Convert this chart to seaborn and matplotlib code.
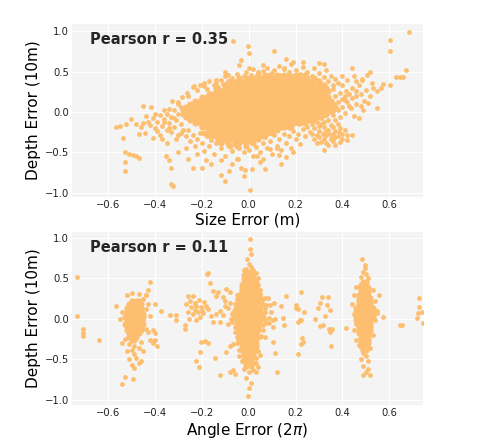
import matplotlib
matplotlib.use("Agg")
import matplotlib.pyplot as plt
import seaborn as sns

# ---- top panel: size error vs depth error ----
# dense core, read row by row (y, x positions)
size_core_rows = [
    (0.46, [0.04, 0.07, 0.09, 0.12, 0.15, 0.17, 0.20, 0.24]),
    (0.42, [-0.04, -0.01, 0.02, 0.04, 0.06, 0.08, 0.10, 0.12, 0.14, 0.16, 0.18, 0.20, 0.22, 0.25, 0.28]),
    (0.38, [-0.08, -0.05, -0.02, 0.00, 0.01, 0.03, 0.05, 0.06, 0.08, 0.09, 0.11, 0.13, 0.14, 0.16, 0.18, 0.19, 0.21, 0.23, 0.25, 0.27, 0.30]),
    (0.34, [-0.10, -0.06, -0.05, -0.03, -0.02, 0.00, 0.02, 0.03, 0.05, 0.06, 0.08, 0.10, 0.11, 0.13, 0.14, 0.16, 0.18, 0.19, 0.21, 0.22, 0.24, 0.26, 0.28, 0.30, 0.32]),
    (0.30, [-0.14, -0.10, -0.08, -0.07, -0.05, -0.04, -0.02, -0.01, 0.01, 0.03, 0.04, 0.06, 0.07, 0.09, 0.11, 0.12, 0.14, 0.15, 0.17, 0.19, 0.20, 0.22, 0.23, 0.25, 0.27, 0.29, 0.31, 0.33]),
    (0.26, [-0.14, -0.12, -0.11, -0.09, -0.08, -0.06, -0.04, -0.03, -0.01, 0.00, 0.02, 0.04, 0.05, 0.07, 0.08, 0.10, 0.12, 0.13, 0.15, 0.16, 0.18, 0.20, 0.21, 0.23, 0.24, 0.26, 0.28, 0.30, 0.32, 0.34]),
    (0.22, [-0.17, -0.16, -0.14, -0.13, -0.11, -0.09, -0.08, -0.06, -0.05, -0.03, -0.01, 0.00, 0.02, 0.03, 0.05, 0.07, 0.08, 0.10, 0.11, 0.13, 0.15, 0.16, 0.18, 0.19, 0.21, 0.23, 0.24, 0.26, 0.27, 0.29, 0.31, 0.32]),
    (0.18, [-0.20, -0.18, -0.17, -0.15, -0.14, -0.12, -0.10, -0.09, -0.07, -0.06, -0.04, -0.02, -0.01, 0.01, 0.02, 0.04, 0.06, 0.07, 0.09, 0.10, 0.12, 0.14, 0.15, 0.17, 0.18, 0.20, 0.22, 0.23, 0.25, 0.26, 0.28, 0.30, 0.31, 0.33, 0.34]),
    (0.14, [-0.23, -0.21, -0.20, -0.18, -0.16, -0.15, -0.13, -0.12, -0.10, -0.08, -0.07, -0.05, -0.04, -0.02, 0.00, 0.01, 0.03, 0.04, 0.06, 0.08, 0.09, 0.11, 0.12, 0.14, 0.16, 0.17, 0.19, 0.20, 0.22, 0.24, 0.25, 0.27, 0.28, 0.30, 0.32, 0.33, 0.35]),
    (0.10, [-0.25, -0.24, -0.22, -0.20, -0.19, -0.17, -0.16, -0.14, -0.12, -0.11, -0.09, -0.08, -0.06, -0.04, -0.03, -0.01, 0.00, 0.02, 0.04, 0.05, 0.07, 0.08, 0.10, 0.12, 0.13, 0.15, 0.16, 0.18, 0.20, 0.21, 0.23, 0.24, 0.26, 0.28, 0.29, 0.31, 0.32, 0.34, 0.36]),
    (0.06, [-0.27, -0.26, -0.24, -0.22, -0.21, -0.19, -0.18, -0.16, -0.14, -0.13, -0.11, -0.10, -0.08, -0.06, -0.05, -0.03, -0.02, 0.00, 0.02, 0.03, 0.05, 0.06, 0.08, 0.10, 0.11, 0.13, 0.14, 0.16, 0.18, 0.19, 0.21, 0.22, 0.24, 0.26, 0.27, 0.29, 0.30, 0.32, 0.34, 0.35, 0.37]),
    (0.02, [-0.28, -0.27, -0.25, -0.23, -0.22, -0.20, -0.19, -0.17, -0.15, -0.14, -0.12, -0.11, -0.09, -0.07, -0.06, -0.04, -0.03, -0.01, 0.01, 0.02, 0.04, 0.05, 0.07, 0.09, 0.10, 0.12, 0.13, 0.15, 0.17, 0.18, 0.20, 0.21, 0.23, 0.25, 0.26, 0.28, 0.29, 0.31, 0.33, 0.34, 0.36]),
    (-0.02, [-0.28, -0.26, -0.24, -0.23, -0.21, -0.20, -0.18, -0.16, -0.15, -0.13, -0.12, -0.10, -0.08, -0.07, -0.05, -0.04, -0.02, 0.00, 0.01, 0.03, 0.04, 0.06, 0.08, 0.09, 0.11, 0.12, 0.14, 0.16, 0.17, 0.19, 0.20, 0.22, 0.24, 0.25, 0.27, 0.28, 0.30, 0.32, 0.33]),
    (-0.06, [-0.27, -0.25, -0.24, -0.22, -0.20, -0.19, -0.17, -0.16, -0.14, -0.12, -0.11, -0.09, -0.08, -0.06, -0.04, -0.03, -0.01, 0.00, 0.02, 0.04, 0.05, 0.07, 0.08, 0.10, 0.12, 0.13, 0.15, 0.16, 0.18, 0.20, 0.21, 0.23, 0.24, 0.26, 0.28, 0.29, 0.31]),
    (-0.10, [-0.25, -0.23, -0.22, -0.20, -0.18, -0.17, -0.15, -0.14, -0.12, -0.10, -0.09, -0.07, -0.06, -0.04, -0.02, -0.01, 0.01, 0.02, 0.04, 0.06, 0.07, 0.09, 0.10, 0.12, 0.14, 0.15, 0.17, 0.18, 0.20, 0.22, 0.23, 0.25, 0.26, 0.28]),
    (-0.14, [-0.23, -0.21, -0.19, -0.18, -0.16, -0.15, -0.13, -0.11, -0.10, -0.08, -0.07, -0.05, -0.03, -0.02, 0.00, 0.01, 0.03, 0.05, 0.06, 0.08, 0.09, 0.11, 0.13, 0.14, 0.16, 0.17, 0.19, 0.21, 0.22, 0.24]),
    (-0.18, [-0.20, -0.18, -0.17, -0.15, -0.13, -0.12, -0.10, -0.09, -0.07, -0.05, -0.04, -0.02, -0.01, 0.01, 0.03, 0.04, 0.06, 0.07, 0.09, 0.11, 0.12, 0.14, 0.15, 0.17, 0.18]),
    (-0.22, [-0.17, -0.15, -0.14, -0.12, -0.10, -0.09, -0.07, -0.06, -0.04, -0.02, -0.01, 0.01, 0.02, 0.04, 0.06, 0.07, 0.09, 0.10, 0.12]),
    (-0.26, [-0.19, -0.17, -0.15, -0.13, -0.11, -0.10, -0.08, -0.06, -0.05, -0.03, -0.02, 0.00, 0.02, 0.03, 0.05, 0.06, 0.08, 0.10]),
    (-0.30, [-0.16, -0.14, -0.12, -0.10, -0.09, -0.07, -0.06, -0.04, -0.02, -0.01, 0.01, 0.02, 0.04, 0.06]),
    (-0.34, [-0.13, -0.11, -0.09, -0.07, -0.05, -0.03, -0.02, 0.00, 0.02, 0.04]),
    (-0.38, [-0.12, -0.09, -0.06, -0.04, -0.01, 0.02]),
    (-0.42, [-0.08, -0.05, -0.01]),
]

size_upper = [
    (-0.24, 0.31), (-0.22, 0.27), (-0.21, 0.33), (-0.19, 0.32), (-0.18, 0.29), (-0.17, 0.38), (-0.15, 0.34),
    (-0.14, 0.36), (-0.13, 0.31), (-0.12, 0.40), (-0.11, 0.35), (-0.10, 0.45), (-0.09, 0.38), (-0.08, 0.33),
    (-0.07, 0.42), (-0.06, 0.37), (-0.05, 0.47), (-0.04, 0.41), (-0.03, 0.36), (-0.02, 0.44), (-0.01, 0.50),
    (0.00, 0.42), (0.01, 0.46), (0.02, 0.53), (0.03, 0.43), (0.04, 0.49), (0.05, 0.41), (0.06, 0.51),
    (0.07, 0.45), (0.08, 0.55), (0.09, 0.43), (0.10, 0.48), (0.11, 0.52), (0.12, 0.42), (0.13, 0.57),
    (0.14, 0.46), (0.15, 0.53), (0.16, 0.41), (0.17, 0.49), (0.18, 0.60), (0.19, 0.44), (0.20, 0.52),
    (0.21, 0.38), (0.22, 0.47), (0.23, 0.56), (0.24, 0.42), (0.25, 0.50), (0.26, 0.37), (0.27, 0.45),
    (0.28, 0.54), (0.29, 0.40), (0.30, 0.48), (0.31, 0.35), (0.32, 0.43), (0.33, 0.52), (0.34, 0.38),
    (0.35, 0.45), (0.36, 0.33), (0.37, 0.41),
    (0.16, 0.66), (0.19, 0.62), (0.23, 0.62), (0.30, 0.61), (0.32, 0.60), (0.15, 0.55), (0.107, 0.75),
    (0.0, 0.73), (-0.004, 0.82), (-0.069, 0.88), (-0.033, 0.64), (-0.04, 0.58), (0.0, 0.55), (0.06, 0.58),
    (-0.09, 0.46), (-0.10, 0.50), (-0.14, 0.40), (-0.19, 0.36), (-0.233, 0.32), (-0.262, 0.24),
    (-0.284, 0.18), (-0.327, 0.14), (-0.30, 0.12), (-0.26, 0.20),
]

size_left = [
    (-0.567, -0.18), (-0.551, -0.173), (-0.524, -0.152), (-0.502, -0.09), (-0.537, -0.325), (-0.527, -0.495),
    (-0.51, -0.52), (-0.495, -0.53), (-0.48, -0.545), (-0.47, -0.565), (-0.53, -0.62), (-0.53, -0.725),
    (-0.48, -0.15), (-0.47, -0.27), (-0.451, 0.074), (-0.417, 0.062), (-0.444, -0.255), (-0.41, -0.32),
    (-0.43, -0.12), (-0.42, -0.16), (-0.41, -0.08), (-0.40, -0.20), (-0.39, -0.12), (-0.38, -0.04),
    (-0.37, -0.17), (-0.36, -0.09), (-0.35, -0.22), (-0.35, -0.02), (-0.34, -0.14), (-0.33, -0.06),
    (-0.33, -0.25), (-0.32, 0.02), (-0.32, -0.18), (-0.31, -0.10), (-0.30, -0.28), (-0.30, -0.03),
    (-0.29, -0.15), (-0.29, 0.06), (-0.38, -0.28), (-0.36, 0.03), (-0.34, 0.04), (-0.40, -0.02),
    (-0.45, -0.14), (-0.46, -0.19), (-0.44, -0.05), (-0.37, -0.33), (-0.35, -0.38), (-0.31, -0.33),
    (-0.30, 0.10), (-0.28, -0.22), (-0.39, -0.24), (-0.36, -0.13), (-0.34, -0.20), (-0.32, -0.08),
]

size_lower = [
    (-0.29, -0.26), (-0.27, -0.30), (-0.26, -0.22), (-0.25, -0.36), (-0.24, -0.28), (-0.23, -0.42),
    (-0.22, -0.33), (-0.21, -0.26), (-0.20, -0.38), (-0.19, -0.48), (-0.18, -0.30), (-0.17, -0.42),
    (-0.16, -0.35), (-0.15, -0.52), (-0.14, -0.39), (-0.13, -0.30), (-0.12, -0.45), (-0.11, -0.36),
    (-0.10, -0.55), (-0.09, -0.41), (-0.08, -0.34), (-0.07, -0.48), (-0.06, -0.39), (-0.05, -0.58),
    (-0.04, -0.44), (-0.03, -0.36), (-0.02, -0.50), (-0.01, -0.41), (0.00, -0.47), (0.01, -0.37),
    (0.02, -0.55), (0.03, -0.43), (0.04, -0.34), (0.05, -0.49), (0.06, -0.39), (0.07, -0.31),
    (0.08, -0.45), (0.09, -0.36), (0.10, -0.52), (0.11, -0.29), (0.12, -0.42), (0.13, -0.33),
    (0.14, -0.47), (0.15, -0.27), (0.16, -0.38), (0.17, -0.30), (0.18, -0.44), (0.19, -0.24),
    (0.20, -0.34), (0.21, -0.27), (0.22, -0.40), (0.23, -0.21), (0.24, -0.30), (0.25, -0.18),
    (0.26, -0.25), (0.27, -0.15), (0.28, -0.20), (0.29, -0.12), (0.30, -0.17), (0.31, -0.08),
    (0.32, -0.13), (0.33, -0.04), (0.34, -0.10), (0.35, 0.00),
    (-0.341, -0.60), (-0.33, -0.69), (-0.33, -0.89), (-0.325, -0.92), (-0.355, -0.54), (-0.30, -0.50),
    (-0.26, -0.58), (-0.24, -0.70), (-0.20, -0.70), (-0.184, -0.60), (-0.16, -0.64), (-0.12, -0.78),
    (-0.10, -0.85), (-0.084, -0.73), (-0.07, -0.65), (-0.047, -0.58), (-0.032, -0.69), (-0.018, -0.79),
    (0.007, -0.97), (0.014, -0.71), (0.036, -0.545), (0.07, -0.71), (0.09, -0.46), (0.12, -0.44),
    (0.14, -0.65), (0.16, -0.56), (0.13, -0.53), (0.19, -0.50), (-0.014, -0.72), (0.05, -0.62),
    (-0.22, -0.52), (-0.27, -0.45), (-0.12, -0.60), (0.06, -0.58),
]

size_right = [
    (0.30, -0.235), (0.316, -0.27), (0.33, -0.235), (0.36, -0.27), (0.387, -0.25), (0.40, -0.27),
    (0.32, -0.33), (0.35, -0.33), (0.31, -0.37), (0.29, -0.39), (0.32, -0.47), (0.37, -0.41),
    (0.34, -0.41), (0.32, -0.19), (0.36, -0.19), (0.38, -0.15), (0.31, -0.15), (0.27, -0.27),
    (0.34, -0.22), (0.37, -0.23), (0.39, -0.20), (0.41, -0.22), (0.42, -0.28), (0.40, -0.33),
    (0.38, -0.30), (0.35, -0.28), (0.33, -0.29), (0.30, -0.31), (0.28, -0.34), (0.36, -0.36),
    (0.39, -0.37), (0.33, -0.38), (0.35, -0.16), (0.42, -0.35), (0.44, -0.28), (0.29, -0.29),
    (0.34, -0.26), (0.37, -0.31),
    (0.36, 0.28), (0.37, 0.20), (0.38, 0.12), (0.38, 0.03), (0.39, 0.24), (0.40, 0.16), (0.40, 0.06),
    (0.40, 0.34), (0.41, -0.01), (0.41, 0.20), (0.414, 0.26), (0.429, 0.22), (0.43, 0.07), (0.436, 0.05),
    (0.45, -0.05), (0.412, 0.15), (0.457, 0.20), (0.479, 0.22), (0.493, 0.14), (0.457, 0.10),
    (0.479, 0.08), (0.39, -0.06), (0.37, -0.10), (0.36, -0.04), (0.42, 0.12), (0.44, 0.30),
    (0.443, 0.54), (0.45, 0.45), (0.486, 0.40), (0.517, 0.50), (0.506, 0.46), (0.528, 0.36),
    (0.55, 0.26), (0.564, 0.30), (0.574, 0.35), (0.546, 0.054), (0.604, 0.887), (0.604, 0.755),
    (0.685, 0.995), (0.674, 0.516), (0.657, 0.433), (0.645, 0.433), (0.63, 0.433), (0.604, 0.34),
    (0.47, 0.33), (0.50, 0.27), (0.52, 0.20), (0.49, 0.03), (0.47, -0.08), (0.51, 0.11),
    (0.53, 0.30), (0.46, 0.38), (0.42, 0.40), (0.38, 0.36), (0.485, 0.41), (0.44, 0.17),
    (0.40, 0.45), (0.46, 0.26),
]

# ---- bottom panel: angle error vs depth error ----
angle_core_rows = [
    # cluster near -0.5
    (0.22, [-0.50, -0.48, -0.47]),
    (0.18, [-0.51, -0.50, -0.48, -0.47, -0.46]),
    (0.14, [-0.52, -0.51, -0.49, -0.48, -0.46]),
    (0.10, [-0.52, -0.50, -0.49, -0.47, -0.46]),
    (0.06, [-0.52, -0.51, -0.49, -0.48, -0.46, -0.45]),
    (0.02, [-0.53, -0.51, -0.50, -0.48, -0.47, -0.45]),
    (-0.02, [-0.52, -0.51, -0.49, -0.48, -0.46]),
    (-0.06, [-0.53, -0.51, -0.50, -0.48, -0.47, -0.45]),
    (-0.10, [-0.52, -0.50, -0.49, -0.47, -0.46]),
    (-0.14, [-0.52, -0.51, -0.49, -0.48, -0.46]),
    (-0.18, [-0.51, -0.50, -0.48, -0.47]),
    (-0.22, [-0.51, -0.49, -0.48]),
    (-0.26, [-0.50, -0.49]),
    # cluster near 0
    (0.58, [-0.01, 0.01]),
    (0.54, [-0.02, -0.01, 0.01, 0.02]),
    (0.50, [-0.02, -0.01, 0.00, 0.02]),
    (0.46, [-0.02, -0.01, 0.01, 0.02, 0.03]),
    (0.42, [-0.03, -0.02, 0.00, 0.01, 0.03]),
    (0.38, [-0.03, -0.01, 0.00, 0.02, 0.03]),
    (0.34, [-0.03, -0.02, 0.00, 0.01, 0.03, 0.04]),
    (0.30, [-0.04, -0.02, -0.01, 0.01, 0.02, 0.04]),
    (0.26, [-0.04, -0.03, -0.01, 0.00, 0.02, 0.03, 0.04]),
    (0.22, [-0.04, -0.03, -0.01, 0.00, 0.02, 0.03, 0.05]),
    (0.18, [-0.05, -0.03, -0.02, 0.00, 0.01, 0.03, 0.04]),
    (0.14, [-0.05, -0.04, -0.02, -0.01, 0.01, 0.02, 0.04, 0.05]),
    (0.10, [-0.05, -0.04, -0.02, -0.01, 0.01, 0.02, 0.04, 0.05]),
    (0.06, [-0.06, -0.04, -0.03, -0.01, 0.00, 0.02, 0.03, 0.05]),
    (0.02, [-0.06, -0.04, -0.03, -0.01, 0.00, 0.02, 0.03, 0.05, 0.06]),
    (-0.02, [-0.05, -0.04, -0.02, -0.01, 0.01, 0.02, 0.04, 0.05]),
    (-0.06, [-0.05, -0.04, -0.02, -0.01, 0.01, 0.02, 0.04, 0.05]),
    (-0.10, [-0.05, -0.03, -0.02, 0.00, 0.01, 0.03, 0.04]),
    (-0.14, [-0.04, -0.03, -0.01, 0.00, 0.02, 0.03, 0.04]),
    (-0.18, [-0.04, -0.03, -0.01, 0.00, 0.02, 0.03]),
    (-0.22, [-0.04, -0.02, -0.01, 0.01, 0.02, 0.03]),
    (-0.26, [-0.04, -0.02, -0.01, 0.01, 0.02, 0.03]),
    (-0.30, [-0.03, -0.02, 0.00, 0.01, 0.03]),
    (-0.34, [-0.03, -0.02, 0.00, 0.01, 0.03]),
    (-0.38, [-0.03, -0.01, 0.00, 0.02, 0.03]),
    (-0.42, [-0.02, -0.01, 0.01, 0.02]),
    (-0.46, [-0.02, -0.01, 0.01, 0.02]),
    (-0.50, [-0.02, 0.00, 0.01]),
    (-0.54, [-0.01, 0.00, 0.02]),
    (-0.58, [-0.01, 0.01]),
    # cluster near 0.5
    (0.46, [0.49, 0.50]),
    (0.42, [0.48, 0.49, 0.50]),
    (0.38, [0.48, 0.49, 0.51]),
    (0.34, [0.48, 0.49, 0.50, 0.51]),
    (0.30, [0.47, 0.48, 0.50, 0.51]),
    (0.26, [0.47, 0.48, 0.50, 0.51, 0.52]),
    (0.22, [0.47, 0.48, 0.49, 0.51, 0.52]),
    (0.18, [0.47, 0.48, 0.50, 0.51, 0.52]),
    (0.14, [0.46, 0.47, 0.49, 0.50, 0.52, 0.53]),
    (0.10, [0.46, 0.47, 0.49, 0.50, 0.52, 0.53]),
    (0.06, [0.46, 0.48, 0.49, 0.51, 0.52, 0.53]),
    (0.02, [0.46, 0.47, 0.49, 0.50, 0.52, 0.53]),
    (-0.02, [0.46, 0.48, 0.49, 0.51, 0.52]),
    (-0.06, [0.47, 0.48, 0.50, 0.51, 0.52]),
    (-0.10, [0.47, 0.48, 0.50, 0.51, 0.52]),
    (-0.14, [0.47, 0.49, 0.50, 0.52]),
    (-0.18, [0.47, 0.48, 0.50, 0.51]),
    (-0.22, [0.48, 0.49, 0.51]),
    (-0.26, [0.48, 0.50, 0.51]),
    (-0.30, [0.48, 0.49, 0.51]),
    (-0.34, [0.48, 0.50]),
    (-0.38, [0.49, 0.50]),
]

angle_left = [
    (-0.52, 0.30), (-0.50, 0.32), (-0.47, 0.31), (-0.44, 0.30), (-0.45, 0.24), (-0.43, 0.19), (-0.44, 0.12),
    (-0.45, -0.02), (-0.44, -0.12), (-0.43, -0.16), (-0.41, -0.14), (-0.40, -0.18), (-0.42, -0.26),
    (-0.41, -0.30), (-0.39, -0.34), (-0.53, -0.25), (-0.54, -0.30), (-0.51, -0.31), (-0.49, -0.33),
    (-0.50, -0.38), (-0.52, -0.40), (-0.49, -0.44), (-0.48, -0.49), (-0.51, -0.50), (-0.47, -0.55),
    (-0.46, -0.52), (-0.45, -0.40), (-0.50, -0.57), (-0.49, -0.61), (-0.527, -0.72), (-0.54, -0.80),
    (-0.495, -0.75), (-0.47, -0.36), (-0.46, -0.28), (-0.42, 0.46), (-0.567, 0.165), (-0.734, 0.52),
    (-0.734, 0.04), (-0.707, -0.13), (-0.707, -0.17), (-0.71, -0.21), (-0.638, -0.26), (-0.40, 0.18),
    (-0.374, 0.10), (-0.338, 0.05), (-0.31, 0.05), (-0.31, -0.02), (-0.43, 0.36), (-0.42, 0.04),
    (-0.40, -0.26), (-0.55, 0.0), (-0.54, 0.08), (-0.438, 0.29), (-0.274, -0.13),
]

angle_middle = [
    (-0.26, 0.28), (-0.238, 0.28), (-0.214, 0.23), (-0.267, 0.185), (-0.245, 0.144), (-0.224, 0.165),
    (-0.203, 0.144), (-0.181, 0.165), (-0.26, 0.08), (-0.238, 0.06), (-0.217, 0.09), (-0.196, 0.07),
    (-0.174, 0.12), (-0.253, 0.0), (-0.224, -0.02), (-0.21, 0.02), (-0.274, -0.08), (-0.18, 0.56),
    (-0.174, 0.565), (-0.167, 0.45), (-0.153, 0.34), (-0.131, 0.33), (-0.138, 0.28), (-0.096, 0.37),
    (-0.079, 0.33), (-0.081, 0.20), (-0.089, 0.14), (-0.103, 0.165), (-0.124, 0.10), (-0.141, 0.06),
    (-0.153, -0.04), (-0.124, -0.04), (-0.16, 0.04), (-0.067, 0.08), (-0.06, 0.04), (-0.074, 0.0),
    (-0.203, -0.29), (-0.188, -0.27), (-0.174, -0.30), (-0.21, -0.41), (-0.224, -0.52), (-0.214, -0.60),
    (-0.146, -0.48), (-0.124, -0.70), (-0.081, -0.66), (-0.067, -0.63), (-0.06, -0.68), (-0.081, -0.33),
    (-0.067, -0.31), (-0.096, -0.41), (-0.23, 0.20), (-0.25, 0.22), (-0.20, 0.11), (-0.23, 0.11),
    (-0.19, 0.21), (-0.11, 0.05), (-0.09, -0.06), (-0.10, 0.22), (-0.11, 0.27),
]

angle_spread = [
    (0.004, 0.99), (0.007, 0.87), (0.01, 0.80), (-0.007, 0.74), (0.0, 0.68), (0.01, 0.64), (-0.01, 0.62),
    (0.02, 0.61), (-0.02, 0.60), (0.03, 0.57), (0.04, 0.50), (0.04, 0.42), (0.05, 0.36), (0.05, 0.28),
    (0.06, 0.24), (0.06, 0.18), (0.07, 0.14), (0.07, 0.08), (0.06, 0.03), (0.07, -0.02), (0.06, -0.08),
    (0.06, -0.14), (0.05, -0.22), (-0.05, 0.30), (-0.05, 0.24), (-0.06, 0.18), (-0.06, 0.12),
    (-0.07, 0.06), (-0.07, -0.04), (-0.06, -0.10), (-0.06, -0.16), (-0.05, -0.22), (-0.05, -0.30),
    (-0.04, -0.38), (-0.04, -0.46), (-0.03, -0.52), (0.03, -0.48), (0.04, -0.40), (0.03, -0.55),
    (-0.02, -0.62), (0.02, -0.63), (0.00, -0.66), (-0.01, -0.73), (0.01, -0.79), (0.0, -0.85),
    (-0.005, -0.95), (0.03, -0.66), (0.04, -0.60), (0.05, -0.45),
    (0.047, 0.305), (0.068, 0.264), (0.083, 0.264), (0.054, 0.223), (0.076, 0.17), (0.09, 0.17),
    (0.108, 0.195), (0.097, 0.08), (0.086, 0.017), (0.104, -0.012), (0.114, -0.004), (0.076, -0.05),
    (0.086, -0.05), (0.104, -0.095), (0.054, -0.21), (0.068, -0.23), (0.104, -0.29), (0.114, -0.42),
    (0.121, -0.66), (0.137, 0.16), (0.147, 0.017), (0.151, -0.08), (0.158, 0.285), (0.204, 0.17),
    (0.20, 0.14), (0.21, 0.12), (0.21, -0.04), (0.218, -0.02), (0.225, -0.01), (0.228, -0.24),
    (0.233, -0.29), (0.225, -0.31), (0.211, -0.44), (0.223, 0.33), (0.237, 0.08),
    (0.283, 0.0), (0.294, 0.14), (0.304, 0.20), (0.314, 0.275), (0.337, 0.27), (0.333, 0.17),
    (0.347, 0.11), (0.326, 0.04), (0.318, -0.07), (0.304, -0.09), (0.343, -0.13), (0.357, -0.12),
    (0.347, -0.16), (0.35, -0.33), (0.414, -0.11), (0.461, 0.044), (0.557, 0.29), (0.547, 0.07),
    (0.573, 0.02), (0.646, -0.07), (0.653, -0.07), (0.728, 0.26), (0.728, 0.15), (0.723, 0.07),
    (0.742, 0.09), (0.718, 0.017), (0.743, -0.046),
    (0.483, 0.747), (0.497, 0.665), (0.497, 0.624), (0.49, 0.58), (0.50, 0.55), (0.48, 0.52),
    (0.51, 0.50), (0.46, 0.40), (0.53, 0.36), (0.45, 0.30), (0.54, 0.22), (0.44, 0.18), (0.55, 0.10),
    (0.45, 0.06), (0.46, -0.06), (0.54, -0.02), (0.45, -0.14), (0.53, -0.20), (0.46, -0.26),
    (0.47, -0.32), (0.52, -0.36), (0.49, -0.42), (0.50, -0.46), (0.48, -0.50), (0.51, -0.52),
    (0.49, -0.58), (0.51, -0.62), (0.50, -0.66), (0.49, -0.70), (0.52, -0.69),
]

size_r = "Pearson r = 0.35"
angle_r = "Pearson r = 0.11"
xticks = [-0.6, -0.4, -0.2, 0.0, 0.2, 0.4, 0.6]
yticks = [-1.0, -0.5, 0.0, 0.5, 1.0]


def from_rows(rows):
    xs, ys = [], []
    for y, row in rows:
        xs.extend(row)
        ys.extend([y] * len(row))
    return xs, ys


def from_pairs(*groups):
    xs, ys = [], []
    for group in groups:
        for x, y in group:
            xs.append(x)
            ys.append(y)
    return xs, ys


sns.set_theme(style="darkgrid", rc={
    "axes.facecolor": "#f4f4f4",
    "grid.color": "white",
    "grid.linewidth": 0.8,
    "axes.edgecolor": "#f4f4f4",
    "xtick.color": "#222222",
    "ytick.color": "#222222",
    "axes.labelcolor": "black",
})
plt.rcParams["font.family"] = ["DejaVu Sans"]

point_color = "#fdbf6f"

fig = plt.figure(figsize=(4.83, 4.45), dpi=100)
ax_top = fig.add_axes([0.149, 0.557, 0.727, 0.389])
ax_bot = fig.add_axes([0.149, 0.090, 0.727, 0.389])

panels = [
    (ax_top, from_rows(size_core_rows), from_pairs(size_upper, size_left, size_lower, size_right),
     "Size Error (m)", size_r, (-1.055, 1.09)),
    (ax_bot, from_rows(angle_core_rows), from_pairs(angle_left, angle_middle, angle_spread),
     r"Angle Error ($2\pi$)", angle_r, (-1.065, 1.077)),
]

for ax, core, spread, xlabel, r_text, ylim in panels:
    # the overlapping core points are drawn a bit larger so the blob reads as solid
    sns.scatterplot(x=core[0], y=core[1], ax=ax, color=point_color, s=20, linewidth=0)
    sns.scatterplot(x=spread[0], y=spread[1], ax=ax, color=point_color, s=12, linewidth=0)
    ax.set_xlim(-0.755, 0.745)
    ax.set_ylim(*ylim)
    ax.set_xticks(xticks)
    ax.set_yticks(yticks)
    ax.tick_params(labelsize=7.2, length=0, pad=2)
    ax.set_xlabel(xlabel, fontsize=11, labelpad=2)
    ax.set_ylabel("Depth Error (10m)", fontsize=11, labelpad=3)
    ax.text(0.05, 0.955, r_text, transform=ax.transAxes, ha="left", va="top",
            fontsize=10.5, fontweight="bold")
    for side in ax.spines.values():
        side.set_visible(False)

fig.savefig("out.png", dpi=100)
